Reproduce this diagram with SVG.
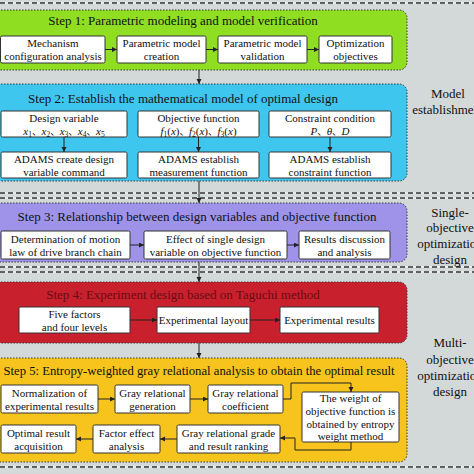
<svg xmlns="http://www.w3.org/2000/svg" width="474" height="474" viewBox="0 0 474 474">
<style>
.t{font-family:"Liberation Serif","Times New Roman",Tinos,"DejaVu Serif",serif;font-size:11px;fill:#111;text-anchor:middle}
.cjk{font-family:"Noto Sans CJK SC",sans-serif;font-style:normal;font-size:9.5px}
.ttl{font-size:13px}
.side{font-size:13px}
.box{fill:#fff;stroke:#333;stroke-width:1}
.step{stroke:#3a3a3a;stroke-width:1;stroke-dasharray:1.5 1.5}
.conn{stroke:#222;fill:none;stroke-width:1}
.sepw{stroke:#f2f2f2;stroke-width:1.6}
.sep{stroke:#333;stroke-width:1.6;stroke-dasharray:5 3}
.it{font-style:italic}
.sub{font-size:7.5px}
</style>
<defs>
<marker id="ah" markerUnits="userSpaceOnUse" markerWidth="6" markerHeight="6" refX="5" refY="2.5" orient="auto">
<path d="M0,0 L5,2.5 L0,5 z" fill="#222"/>
</marker>
</defs>
<rect x="0" y="0" width="474" height="474" fill="#d3d8d8"/>
<g id="separators">
<line class="sepw" x1="0" y1="3" x2="474" y2="3"/><line class="sep" x1="0" y1="3" x2="474" y2="3"/>
<line class="sepw" x1="0" y1="193" x2="474" y2="193"/><line class="sep" x1="0" y1="193" x2="474" y2="193"/>
<line class="sepw" x1="0" y1="198" x2="474" y2="198"/><line class="sep" x1="0" y1="198" x2="474" y2="198"/>
<line class="sepw" x1="0" y1="267" x2="474" y2="267"/><line class="sep" x1="0" y1="267" x2="474" y2="267"/>
<line class="sepw" x1="0" y1="272" x2="474" y2="272"/><line class="sep" x1="0" y1="272" x2="474" y2="272"/>
<line class="sepw" x1="0" y1="467" x2="474" y2="467"/><line class="sep" x1="0" y1="467" x2="474" y2="467"/>
</g>
<g id="step1">
<rect class="step" x="-10" y="10" width="417" height="60" rx="8" fill="#8fde22"/>
<text class="t ttl" x="183" y="24.5">Step 1: Parametric modeling and model verification</text>
</g>
<g id="s1n1"><rect class="box" x="0.5" y="36" width="104.5" height="27" rx="1.5"/><text class="t" x="53" y="46.8">Mechanism</text><text class="t" x="53" y="59.8">configuration analysis</text></g>
<g id="s1n2"><rect class="box" x="117" y="36" width="89" height="27" rx="1.5"/><text class="t" x="161.5" y="46.8">Parametric model</text><text class="t" x="161.5" y="59.8">creation</text></g>
<g id="s1n3"><rect class="box" x="218" y="36" width="89" height="27" rx="1.5"/><text class="t" x="262.5" y="46.8">Parametric model</text><text class="t" x="262.5" y="59.8">validation</text></g>
<g id="s1n4"><rect class="box" x="319" y="36" width="73" height="27" rx="1.5"/><text class="t" x="355.5" y="46.8">Optimization</text><text class="t" x="355.5" y="59.8">objectives</text></g>
<g id="step2">
<rect class="step" x="-10" y="84" width="417" height="97" rx="8" fill="#3fc6ef"/>
<text class="t ttl" x="183" y="102.5">Step 2: Establish the mathematical model of optimal design</text>
</g>
<g id="s2n1"><rect class="box" x="1" y="111" width="126" height="26" rx="1.5"/><text class="t" x="64" y="121.5">Design variable</text><text class="t" x="64" y="134.5"><tspan class="it">x</tspan><tspan class="sub" dy="2">1</tspan><tspan class="cjk" dy="-2">、</tspan><tspan class="it">x</tspan><tspan class="sub" dy="2">2</tspan><tspan class="cjk" dy="-2">、</tspan><tspan class="it">x</tspan><tspan class="sub" dy="2">3</tspan><tspan class="cjk" dy="-2">、</tspan><tspan class="it">x</tspan><tspan class="sub" dy="2">4</tspan><tspan class="cjk" dy="-2">、</tspan><tspan class="it">x</tspan><tspan class="sub" dy="2">5</tspan></text></g>
<g id="s2n2"><rect class="box" x="138" y="111" width="121" height="26" rx="1.5"/><text class="t" x="198.5" y="121.5">Objective function</text><text class="t" x="198.5" y="134.5"><tspan class="it">f</tspan><tspan class="sub" dy="2">1</tspan><tspan dy="-2">(</tspan><tspan class="it">x</tspan><tspan>)</tspan><tspan class="cjk">、</tspan><tspan class="it">f</tspan><tspan class="sub" dy="2">2</tspan><tspan dy="-2">(</tspan><tspan class="it">x</tspan><tspan>)</tspan><tspan class="cjk">、</tspan><tspan class="it">f</tspan><tspan class="sub" dy="2">3</tspan><tspan dy="-2">(</tspan><tspan class="it">x</tspan><tspan>)</tspan></text></g>
<g id="s2n3"><rect class="box" x="269" y="111" width="122" height="26" rx="1.5"/><text class="t" x="330" y="121.5">Constraint condition</text><text class="t" x="330" y="134.5"><tspan class="it">P</tspan><tspan class="cjk">、</tspan><tspan class="it">θ</tspan><tspan class="cjk">、</tspan><tspan class="it">D</tspan></text></g>
<g id="s2n4"><rect class="box" x="1" y="152" width="126" height="26" rx="1.5"/><text class="t" x="64" y="162.5">ADAMS create design</text><text class="t" x="64" y="175.5">variable command</text></g>
<g id="s2n5"><rect class="box" x="138" y="152" width="121" height="26" rx="1.5"/><text class="t" x="198.5" y="162.5">ADAMS establish</text><text class="t" x="198.5" y="175.5">measurement function</text></g>
<g id="s2n6"><rect class="box" x="269" y="152" width="122" height="26" rx="1.5"/><text class="t" x="330" y="162.5">ADAMS establish</text><text class="t" x="330" y="175.5">constraint function</text></g>
<g id="step3">
<rect class="step" x="-10" y="203" width="417" height="59" rx="8" fill="#9e93e8"/>
<text class="t ttl" x="197" y="221">Step 3: Relationship between design variables and objective function</text>
</g>
<g id="s3n1"><rect class="box" x="1" y="231" width="129" height="28" rx="1.5"/><text class="t" x="65.5" y="242.8">Determination of motion</text><text class="t" x="65.5" y="255.8">law of drive branch chain</text></g>
<g id="s3n2"><rect class="box" x="144" y="231" width="143" height="28" rx="1.5"/><text class="t" x="215.5" y="242.8">Effect of single design</text><text class="t" x="215.5" y="255.8">variable on objective function</text></g>
<g id="s3n3"><rect class="box" x="299" y="231" width="91" height="28" rx="1.5"/><text class="t" x="344.5" y="242.8">Results discussion</text><text class="t" x="344.5" y="255.8">and analysis</text></g>
<g id="step4">
<rect class="step" x="-10" y="282" width="417" height="61" rx="8" fill="#c8202d"/>
<text class="t ttl" x="183" y="298.5" style="fill:#6a0c12">Step 4: Experiment design based on Taguchi method</text>
</g>
<g id="s4n1"><rect class="box" x="19" y="307" width="111" height="26" rx="1.5"/><text class="t" x="74.5" y="317.5">Five factors</text><text class="t" x="74.5" y="330.5">and four levels</text></g>
<g id="s4n2"><rect class="box" x="157" y="307" width="93" height="26" rx="1.5"/><text class="t" x="203.5" y="323.8">Experimental layout</text></g>
<g id="s4n3"><rect class="box" x="280" y="307" width="99" height="26" rx="1.5"/><text class="t" x="329.5" y="323.8">Experimental results</text></g>
<g id="step5">
<rect class="step" x="-10" y="358" width="417" height="104" rx="8" fill="#f6c41c"/>
<text class="t ttl" x="199" y="375" style="font-size:12.7px">Step 5: Entropy-weighted gray relational analysis to obtain the optimal result</text>
</g>
<g id="s5n1"><rect class="box" x="1" y="385" width="97" height="28" rx="1.5"/><text class="t" x="49.5" y="396.8">Normalization of</text><text class="t" x="49.5" y="409.8">experimental results</text></g>
<g id="s5n2"><rect class="box" x="115" y="385" width="75" height="28" rx="1.5"/><text class="t" x="152.5" y="396.8">Gray relational</text><text class="t" x="152.5" y="409.8">generation</text></g>
<g id="s5n3"><rect class="box" x="208" y="385" width="75" height="28" rx="1.5"/><text class="t" x="245.5" y="396.8">Gray relational</text><text class="t" x="245.5" y="409.8">coefficient</text></g>
<g id="s5n4"><rect class="box" x="302" y="392" width="97" height="50" rx="1.5"/><text class="t" x="350.5" y="401.5">The weight of</text><text class="t" x="350.5" y="414.5">objective function is</text><text class="t" x="350.5" y="427.5">obtained by entropy</text><text class="t" x="350.5" y="440">weight method</text></g>
<g id="s5n5"><rect class="box" x="1" y="425" width="75" height="28" rx="1.5"/><text class="t" x="38.5" y="436.8">Optimal result</text><text class="t" x="38.5" y="449.8">acquisition</text></g>
<g id="s5n6"><rect class="box" x="93" y="425" width="67" height="28" rx="1.5"/><text class="t" x="126.5" y="436.8">Factor effect</text><text class="t" x="126.5" y="449.8">analysis</text></g>
<g id="s5n7"><rect class="box" x="177" y="425" width="103" height="28" rx="1.5"/><text class="t" x="228.5" y="436.8">Gray relational grade</text><text class="t" x="228.5" y="449.8">and result ranking</text></g>
<g id="labels">
<text class="t side" x="448" y="97.5">Model</text>
<text class="t side" x="448" y="113.5">establishment</text>
<text class="t side" x="450" y="216.5">Single-</text>
<text class="t side" x="450" y="232">objective</text>
<text class="t side" x="450" y="247.5">optimization</text>
<text class="t side" x="450" y="263.5">design</text>
<text class="t side" x="450" y="346.5">Multi-</text>
<text class="t side" x="450" y="363.5">objective</text>
<text class="t side" x="450" y="379.5">optimization</text>
<text class="t side" x="450" y="395.5">design</text>
</g>
<g id="connectors">
<line class="conn" x1="199" y1="70" x2="199" y2="84" marker-end="url(#ah)"/>
<line class="conn" x1="199" y1="181" x2="199" y2="203" marker-end="url(#ah)"/>
<line class="conn" x1="199" y1="262" x2="199" y2="282" marker-end="url(#ah)"/>
<line class="conn" x1="199" y1="343" x2="199" y2="358" marker-end="url(#ah)"/>
<line class="conn" x1="105" y1="49.5" x2="117" y2="49.5" marker-end="url(#ah)"/>
<line class="conn" x1="206" y1="49.5" x2="218" y2="49.5" marker-end="url(#ah)"/>
<line class="conn" x1="307" y1="49.5" x2="319" y2="49.5" marker-end="url(#ah)"/>
<line class="conn" x1="64" y1="137" x2="64" y2="152" marker-end="url(#ah)"/>
<line class="conn" x1="198.5" y1="137" x2="198.5" y2="152" marker-end="url(#ah)"/>
<line class="conn" x1="330" y1="137" x2="330" y2="152" marker-end="url(#ah)"/>
<line class="conn" x1="130" y1="245" x2="144" y2="245" marker-end="url(#ah)"/>
<line class="conn" x1="287" y1="245" x2="299" y2="245" marker-end="url(#ah)"/>
<line class="conn" x1="130" y1="320" x2="157" y2="320" marker-end="url(#ah)"/>
<line class="conn" x1="250" y1="320" x2="280" y2="320" marker-end="url(#ah)"/>
<line class="conn" x1="98" y1="399" x2="115" y2="399" marker-end="url(#ah)"/>
<line class="conn" x1="190" y1="399" x2="208" y2="399" marker-end="url(#ah)"/>
<polyline class="conn" points="283,399 291,399 291,383 351,383 351,392" marker-end="url(#ah)"/>
<polyline class="conn" points="351,442 351,450 295,450 295,438 280,438" marker-end="url(#ah)"/>
<line class="conn" x1="177" y1="439" x2="160" y2="439" marker-end="url(#ah)"/>
<line class="conn" x1="93" y1="439" x2="76" y2="439" marker-end="url(#ah)"/>
</g>
</svg>
